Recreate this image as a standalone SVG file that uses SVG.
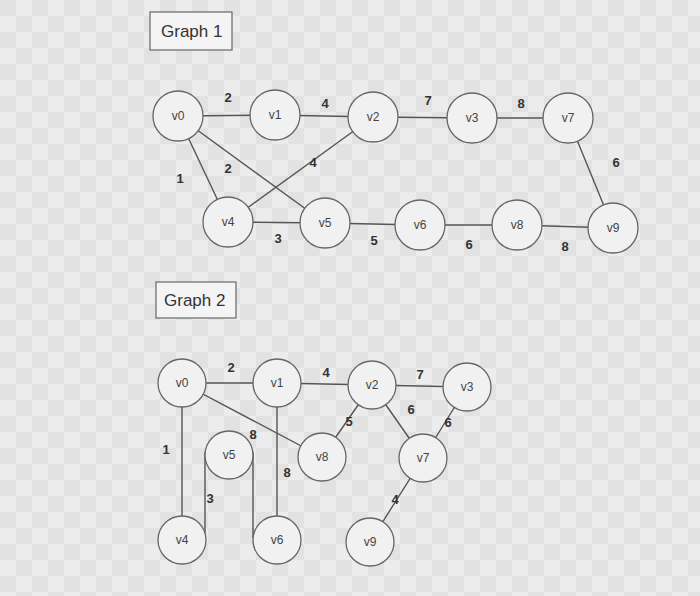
<svg xmlns="http://www.w3.org/2000/svg" width="700" height="596" viewBox="0 0 700 596">
<defs>
<pattern id="chk" width="32" height="32" patternUnits="userSpaceOnUse">
<rect width="32" height="32" fill="#ececec"/>
<rect width="16" height="16" fill="#e2e2e2"/>
<rect x="16" y="16" width="16" height="16" fill="#e2e2e2"/>
</pattern>
</defs>
<style>
.n circle{fill:#f1f1f1;stroke:#666;stroke-width:1.3}
.n text{font-family:"Liberation Sans",Arial,sans-serif;font-size:12px;fill:#444;text-anchor:middle;dominant-baseline:central}
.e line{stroke:#555;stroke-width:1.4}
.w{font-family:"Liberation Sans",Arial,sans-serif;font-size:13px;font-weight:bold;fill:#333;text-anchor:middle;dominant-baseline:central}
.t rect{fill:#f4f4f4;stroke:#666;stroke-width:1.2}
.t text{font-family:"Liberation Sans",Arial,sans-serif;font-size:17px;fill:#333;dominant-baseline:central}
</style>
<rect width="700" height="596" fill="url(#chk)"/>
<g class="t" id="title1"><rect x="150" y="12" width="82" height="38"/><text x="161" y="31">Graph 1</text></g>
<g class="t" id="title2"><rect x="156" y="282" width="80" height="36"/><text x="164" y="300">Graph 2</text></g>
<g class="e" id="edges1">
<line x1="178" y1="116" x2="275" y2="115"/>
<line x1="275" y1="115" x2="373" y2="117"/>
<line x1="373" y1="117" x2="472" y2="118"/>
<line x1="472" y1="118" x2="568" y2="118"/>
<line x1="568" y1="118" x2="613" y2="228"/>
<line x1="178" y1="116" x2="228" y2="222"/>
<line x1="178" y1="116" x2="325" y2="223"/>
<line x1="228" y1="222" x2="373" y2="117"/>
<line x1="228" y1="222" x2="325" y2="223"/>
<line x1="325" y1="223" x2="420" y2="225"/>
<line x1="420" y1="225" x2="517" y2="225"/>
<line x1="517" y1="225" x2="613" y2="228"/>
</g>
<g class="e" id="edges2">
<line x1="182" y1="383" x2="277" y2="383"/>
<line x1="277" y1="383" x2="372" y2="385"/>
<line x1="372" y1="385" x2="467" y2="387"/>
<line x1="182" y1="383" x2="182" y2="540"/>
<line x1="182" y1="383" x2="322" y2="457"/>
<line x1="372" y1="385" x2="322" y2="457"/>
<line x1="372" y1="385" x2="423" y2="458"/>
<line x1="467" y1="387" x2="423" y2="458"/>
<line x1="423" y1="458" x2="370" y2="542"/>
<line x1="277" y1="383" x2="277" y2="540"/>
<line x1="205" y1="452" x2="205" y2="538"/>
<line x1="253" y1="452" x2="253" y2="538"/>
</g>
<g id="weights">
<text class="w" x="228" y="97">2</text><text class="w" x="325" y="103">4</text><text class="w" x="428" y="100">7</text><text class="w" x="521" y="103">8</text><text class="w" x="616" y="162">6</text><text class="w" x="180" y="178">1</text><text class="w" x="228" y="168">2</text><text class="w" x="313" y="162">4</text><text class="w" x="278" y="238">3</text><text class="w" x="374" y="240">5</text><text class="w" x="469" y="244">6</text><text class="w" x="565" y="246">8</text>
<text class="w" x="231" y="367">2</text><text class="w" x="326" y="372">4</text><text class="w" x="420" y="374">7</text><text class="w" x="349" y="421">5</text><text class="w" x="411" y="409">6</text><text class="w" x="448" y="422">6</text><text class="w" x="166" y="449">1</text><text class="w" x="253" y="434">8</text><text class="w" x="287" y="472">8</text><text class="w" x="210" y="498">3</text><text class="w" x="395" y="499">4</text>
</g>
<g class="n" id="g1v0"><circle cx="178" cy="116" r="25"/><text x="178" y="116">v0</text></g>
<g class="n" id="g1v1"><circle cx="275" cy="115" r="25"/><text x="275" y="115">v1</text></g>
<g class="n" id="g1v2"><circle cx="373" cy="117" r="25"/><text x="373" y="117">v2</text></g>
<g class="n" id="g1v3"><circle cx="472" cy="118" r="25"/><text x="472" y="118">v3</text></g>
<g class="n" id="g1v7"><circle cx="568" cy="118" r="25"/><text x="568" y="118">v7</text></g>
<g class="n" id="g1v4"><circle cx="228" cy="222" r="25"/><text x="228" y="222">v4</text></g>
<g class="n" id="g1v5"><circle cx="325" cy="223" r="25"/><text x="325" y="223">v5</text></g>
<g class="n" id="g1v6"><circle cx="420" cy="225" r="25"/><text x="420" y="225">v6</text></g>
<g class="n" id="g1v8"><circle cx="517" cy="225" r="25"/><text x="517" y="225">v8</text></g>
<g class="n" id="g1v9"><circle cx="613" cy="228" r="25"/><text x="613" y="228">v9</text></g>
<g class="n" id="g2v0"><circle cx="182" cy="383" r="24"/><text x="182" y="383">v0</text></g>
<g class="n" id="g2v1"><circle cx="277" cy="383" r="24"/><text x="277" y="383">v1</text></g>
<g class="n" id="g2v2"><circle cx="372" cy="385" r="24"/><text x="372" y="385">v2</text></g>
<g class="n" id="g2v3"><circle cx="467" cy="387" r="24"/><text x="467" y="387">v3</text></g>
<g class="n" id="g2v5"><circle cx="229" cy="455" r="24"/><text x="229" y="455">v5</text></g>
<g class="n" id="g2v8"><circle cx="322" cy="457" r="24"/><text x="322" y="457">v8</text></g>
<g class="n" id="g2v7"><circle cx="423" cy="458" r="24"/><text x="423" y="458">v7</text></g>
<g class="n" id="g2v4"><circle cx="182" cy="540" r="24"/><text x="182" y="540">v4</text></g>
<g class="n" id="g2v6"><circle cx="277" cy="540" r="24"/><text x="277" y="540">v6</text></g>
<g class="n" id="g2v9"><circle cx="370" cy="542" r="24"/><text x="370" y="542">v9</text></g>
</svg>
